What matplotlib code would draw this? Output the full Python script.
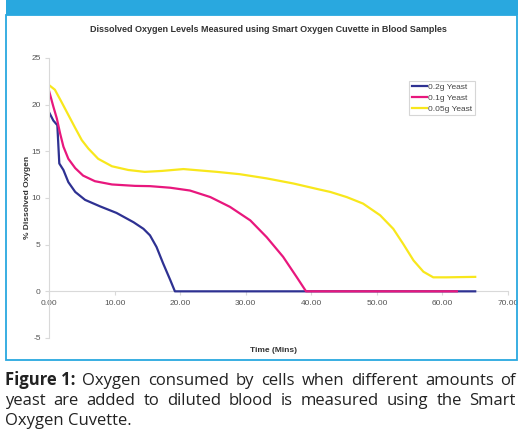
import matplotlib
matplotlib.use('Agg')
import matplotlib.pyplot as plt
from matplotlib.patches import Rectangle

plt.rcParams['axes.unicode_minus'] = False

# data
t_02 = [0, 0.66, 1.27, 1.57, 2.2, 2.95, 4.0, 5.5, 7.8, 10.3, 12.9, 14.4, 15.4, 16.4, 17.4, 18.5, 19.2, 65.0]
o_02 = [19.2, 18.3, 17.8, 13.7, 13.0, 11.7, 10.65, 9.8, 9.1, 8.4, 7.4, 6.7, 6.0, 4.75, 3.0, 1.2, 0.0, 0.0]

t_01 = [0, 0.66, 1.2, 1.7, 2.2, 2.95, 4.0, 5.2, 7.0, 9.6, 13.1, 15.4, 18.5, 21.5, 24.6, 27.6, 30.7,
        33.2, 35.7, 37.8, 39.2, 62.2]
o_01 = [21.5, 19.8, 18.5, 16.9, 15.5, 14.2, 13.2, 12.4, 11.8, 11.45, 11.3, 11.27, 11.1, 10.8, 10.1, 9.05, 7.6,
        5.8, 3.7, 1.5, 0.0, 0.0]

t_005 = [0, 0.9, 1.9, 2.95, 4.0, 5.0, 6.0, 7.5, 9.6, 12.1, 14.6, 17.2, 20.5, 25.6, 29.1, 33.2, 37.3, 41.3,
         42.9, 45.4, 47.9, 50.5, 52.5, 54.0, 55.6, 57.1, 58.6, 60.6, 65.0]
o_005 = [22.1, 21.6, 20.3, 18.9, 17.5, 16.2, 15.3, 14.2, 13.4, 13.0, 12.8, 12.9, 13.1, 12.8, 12.55, 12.1, 11.55, 10.9,
         10.65, 10.1, 9.4, 8.15, 6.7, 5.1, 3.3, 2.1, 1.5, 1.5, 1.55]

labels = ['0.2g Yeast', '0.1g Yeast', '0.05g Yeast']
x_ticks = [0, 10, 20, 30, 40, 50, 60, 70]
y_ticks = [-5, 0, 5, 10, 15, 20, 25]

W, H = 530, 437
blue = '#29a8df'
grey = '#d9d9d9'
txt = '#333333'


def fx(p):
    return p / W


def fy(p):
    return 1 - p / H


fig = plt.figure(figsize=(W / 100, H / 100), dpi=100)
fig.patch.set_facecolor('white')

# frame round the chart + blue band at the top
fig.add_artist(Rectangle((fx(6), fy(360)), fx(517) - fx(6), fy(15) - fy(360),
                         transform=fig.transFigure, fill=False, ec=blue, lw=1.3))
fig.add_artist(Rectangle((fx(5.5), fy(15)), fx(517.5) - fx(5.5), fy(0) - fy(15),
                         transform=fig.transFigure, fc=blue, ec='none'))

ax = fig.add_axes([fx(49), fy(338), fx(508) - fx(49), fy(58) - fy(338)])
ax.plot(t_02, o_02, color='#2e3192', lw=1.6, label=labels[0], solid_joinstyle='round')
ax.plot(t_01, o_01, color='#e8177d', lw=1.6, label=labels[1], solid_joinstyle='round')
ax.plot(t_005, o_005, color='#f8e71c', lw=1.6, label=labels[2], solid_joinstyle='round')

ax.set_xlim(0, 70)
ax.set_ylim(-5, 25)
ax.set_xticks(x_ticks)
ax.set_xticklabels(['%.2f' % v for v in x_ticks])
ax.set_yticks(y_ticks)

for s in ['top', 'right']:
    ax.spines[s].set_visible(False)
ax.spines['bottom'].set_position(('data', 0))
ax.spines['bottom'].set_color(grey)
ax.spines['left'].set_color(grey)
ax.spines['bottom'].set_zorder(0)
ax.tick_params(colors=grey, labelcolor='#555555', labelsize=6, length=3, width=0.8, pad=3,
               labelfontfamily='Liberation Sans')

fig.text(fx(268.5), fy(30), 'Dissolved Oxygen Levels Measured using Smart Oxygen Cuvette in Blood Samples',
         ha='center', va='center', fontsize=6.5, fontweight='bold', color=txt, family='Liberation Sans')
fig.text(fx(274), fy(351), 'Time (Mins)', ha='center', va='center', fontsize=6,
         fontweight='bold', color=txt, family='Liberation Sans')
fig.text(fx(28), fy(197), '% Dissolved Oxygen', ha='center', va='center', rotation=90,
         fontsize=6, fontweight='bold', color=txt, family='Liberation Sans')

leg = ax.legend(loc='upper left', bbox_to_anchor=((409 - 49) / 459, (338 - 80.7) / 280), borderaxespad=0,
                frameon=True, fancybox=False, handlelength=1.9, handletextpad=0.1,
                borderpad=0.3, labelspacing=0.35, prop={'family': 'Liberation Sans', 'size': 6})
leg.get_frame().set_edgecolor('#cccccc')
leg.get_frame().set_linewidth(0.8)
for t in leg.get_texts():
    t.set_color('#444444')

# caption, justified by hand
cap_lines = [
    [('Figure 1:', 'bold'), ('Oxygen', 'normal'), ('consumed', 'normal'), ('by', 'normal'), ('cells', 'normal'),
     ('when', 'normal'), ('different', 'normal'), ('amounts', 'normal'), ('of', 'normal')],
    [(w, 'normal') for w in 'yeast are added to diluted blood is measured using the Smart'.split()],
    [('Oxygen Cuvette.', 'normal')],
]
line_y = [385, 405, 425]
left_px, right_px = 5, 516
fig.canvas.draw()
rend = fig.canvas.get_renderer()
for i, words in enumerate(cap_lines):
    texts = []
    for w, wt in words:
        tt = fig.text(0, fy(line_y[i]), w, fontsize=12, fontweight=wt, color='#222222',
                      family='Open Sans', va='baseline', ha='left')
        texts.append(tt)
    widths = [tt.get_window_extent(rend).width for tt in texts]
    gap = 0
    if len(texts) > 1:
        gap = (right_px - left_px - sum(widths)) / (len(texts) - 1)
    x = left_px
    for tt, wd in zip(texts, widths):
        tt.set_x(fx(x))
        x += wd + gap

fig.savefig('out.png', dpi=100)
